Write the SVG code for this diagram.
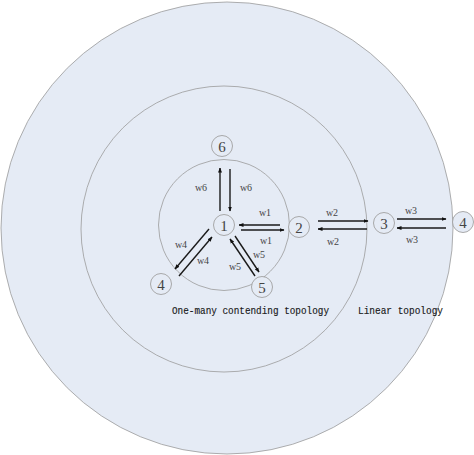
<svg xmlns="http://www.w3.org/2000/svg" width="474" height="455" viewBox="0 0 474 455">
<defs>
<marker id="ah" viewBox="0 0 10 10" refX="9" refY="5" markerWidth="5" markerHeight="5" orient="auto" markerUnits="userSpaceOnUse">
<path d="M0,1 L10,5 L0,9 Z" fill="#111"/>
</marker>
</defs>
<style>
.ring{fill:#e5ebf5;stroke:#9a9a9a;stroke-width:0.8}
.node circle{fill:#e5ebf5;stroke:#a0a0a0;stroke-width:0.9}
.node text{font-family:"Liberation Serif","DejaVu Serif",serif;font-size:15px;fill:#444;text-anchor:middle}
.conn line{stroke:#1a1a1a;stroke-width:1.4;marker-end:url(#ah)}
.lbl{font-family:"Liberation Serif","DejaVu Serif",serif;font-size:10px;fill:#444;text-anchor:middle}
.cap{font-family:"Liberation Mono","DejaVu Sans Mono",monospace;font-size:10.5px;fill:#1a1a1a;stroke:#1a1a1a;stroke-width:0.15}
</style>
<rect width="474" height="455" fill="#ffffff"/>
<g id="rings">
<circle class="ring" cx="227" cy="228" r="226"/>
<circle class="ring" cx="224" cy="229" r="143"/>
<circle class="ring" cx="224" cy="225" r="65.5"/>
</g>
<g id="connectors" class="conn">
<line x1="220" y1="211" x2="220" y2="168"/>
<line x1="230" y1="169" x2="230" y2="211"/>
<line x1="280" y1="225" x2="239" y2="225"/>
<line x1="241" y1="230" x2="284" y2="230"/>
<line x1="318" y1="221" x2="368" y2="221"/>
<line x1="367" y1="229" x2="318" y2="229"/>
<line x1="397" y1="219" x2="446" y2="219"/>
<line x1="446" y1="228" x2="397" y2="228"/>
<line x1="209" y1="229" x2="175" y2="269"/>
<line x1="179" y1="276" x2="212" y2="237"/>
<line x1="235" y1="236" x2="259" y2="272"/>
<line x1="255" y1="276" x2="230" y2="239"/>
</g>
<g id="labels" class="lbl">
<text x="201" y="191">w6</text>
<text x="246" y="191">w6</text>
<text x="265" y="216">w1</text>
<text x="266" y="244">w1</text>
<text x="332" y="216">w2</text>
<text x="333" y="245">w2</text>
<text x="411" y="214">w3</text>
<text x="412" y="243">w3</text>
<text x="181" y="248">w4</text>
<text x="203" y="264">w4</text>
<text x="259" y="258">w5</text>
<text x="235" y="270">w5</text>
</g>
<g id="n1" class="node"><circle cx="224" cy="225" r="10.5"/><text x="224" y="230.5">1</text></g>
<g id="n2" class="node"><circle cx="299" cy="227" r="10.5"/><text x="299" y="232.5">2</text></g>
<g id="n3" class="node"><circle cx="384" cy="223" r="10.5"/><text x="384" y="228.5">3</text></g>
<g id="n4r" class="node"><circle cx="463" cy="222" r="10.5"/><text x="463" y="227.5">4</text></g>
<g id="n6" class="node"><circle cx="222" cy="146" r="10.5"/><text x="222" y="151.5">6</text></g>
<g id="n4" class="node"><circle cx="161" cy="284" r="10.5"/><text x="161" y="289.5">4</text></g>
<g id="n5" class="node"><circle cx="262" cy="287" r="10.5"/><text x="262" y="292.5">5</text></g>
<text class="cap" x="172" y="314" textLength="157" lengthAdjust="spacingAndGlyphs">One-many contending topology</text>
<text class="cap" x="358" y="314" textLength="85" lengthAdjust="spacingAndGlyphs">Linear topology</text>
</svg>
